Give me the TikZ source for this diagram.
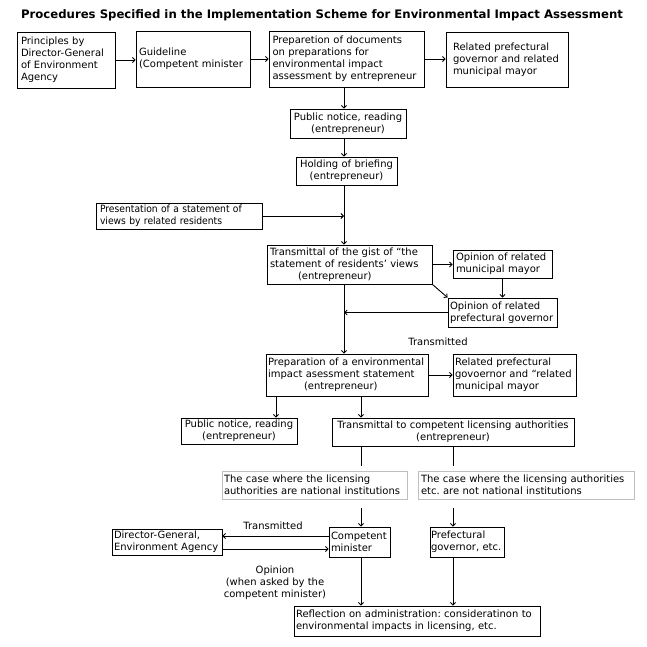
\documentclass[tikz,border=0pt]{standalone}
\usepackage{fontspec}
\setmainfont{DejaVu Sans}
\newfontfamily\condfont{DejaVu Sans}[FakeStretch=0.92]
\usetikzlibrary{arrows.meta,calc}
\frenchspacing
\begin{document}
\begin{tikzpicture}[x=1pt,y=-1pt,
  font=\fontsize{10}{12}\selectfont,
  bx/.style={draw, line width=0.9pt, inner xsep=4pt, inner ysep=2pt, align=left},
  gbx/.style={draw=black!25, line width=0.9pt, inner xsep=3pt, inner ysep=2pt, align=left},
  arr/.style={line width=0.9pt, -{Straight Barb[length=2.5pt,width=5pt]}},
  ln/.style={line width=0.9pt}]
\useasboundingbox (0,0) rectangle (647,647);
\fill[white] (0,0) rectangle (647,647);
\node[font=\bfseries\fontsize{11.7}{14}\selectfont] (title) at (322,15) {Procedures Specified in the Implementation Scheme for Environmental Impact Assessment};
\coordinate (sp) at (344,0);
\coordinate (c0) at (276,0);
\coordinate (c1) at (361,0);
\coordinate (c2) at (453,0);
% boxes
\node[bx, text width=90pt, minimum height=56pt] (p1) at (66,60) {Principles by\\Director-General\\of Environment\\Agency};
\node[bx, inner xsep=3pt, text width=108pt, minimum height=56pt] (g) at (193,59) {Guideline\\(Competent minister};
\node[bx, inner xsep=3.5pt, text width=148pt, minimum height=56pt] (prep) at (346.5,59) {Preparetion of documents\\on preparations for\\environmental impact\\assessment by entrepreneur};
\node[bx, inner xsep=7pt, text width=108pt, minimum height=55pt] (rel1) at (507,59.5) {Related prefectural\\governor and related\\municipal mayor};
\node[bx, align=center, inner xsep=2pt, text width=112pt, minimum height=29pt] (pn1) at (348,123.5) {Public notice, reading\\(entrepreneur)};
\node[bx, align=center, inner xsep=2pt, text width=97pt, minimum height=28pt] (hb) at (346.5,171) {Holding of briefing\\(entrepreneur)};
\node[bx, font=\condfont\fontsize{10}{12}\selectfont, text width=158pt, minimum height=26pt] (pres) at (179,216) {Presentation of a statement of\\views by related residents};
\node[bx, inner xsep=3pt, text width=159pt, minimum height=39pt] (trans) at (349.5,264.5) {Transmittal of the gist of “the\\statement of residents' views\\\hspace*{28pt}(entrepreneur)};
\node[bx, inner xsep=3pt, text width=93pt, minimum height=28pt] (mayor) at (502.5,264) {Opinion of related\\municipal mayor};
\node[bx, inner xsep=2pt, text width=105pt, minimum height=29pt] (gov) at (502.5,312.5) {Opinion of related\\prefectural governor};
\node[bx, inner xsep=2pt, text width=158pt, minimum height=42pt] (eis) at (347,375) {Preparation of a environmental\\impact asessment statement\\\hspace*{36pt}(entrepreneur)};
\node[bx, inner xsep=2pt, text width=119pt, minimum height=42pt] (rel2) at (514.5,375) {Related prefectural\\govoernor and “related\\municipal mayor};
\node[bx, align=center, inner xsep=2pt, text width=112pt, minimum height=26pt] (pn2) at (239,431) {Public notice, reading\\(entrepreneur)};
\node[bx, align=center, inner xsep=2pt, text width=238pt, minimum height=28pt] (tla) at (453,432) {Transmittal to competent licensing authorities\\(entrepreneur)};
\node[gbx, inner xsep=2pt, text width=181pt, minimum height=28pt] (case1) at (314.5,485) {The case where the licensing\\authorities are national institutions};
\node[gbx, text width=210pt, minimum height=28pt] (case2) at (526,485) {The case where the licensing authorities\\etc. are not national institutions};
\node[bx, inner xsep=2pt, text width=106pt, minimum height=26pt] (dg) at (167,542) {Director-General,\\Environment Agency};
\node[bx, inner xsep=2pt, text width=57pt, minimum height=30pt] (cm) at (359.5,542) {Competent\\minister};
\node[bx, inner xsep=1pt, text width=72pt, minimum height=30pt] (pg) at (467,542) {Prefectural\\governor, etc.};
\node[bx, inner xsep=2pt, text width=242pt, minimum height=30pt] (fin) at (417,621) {Reflection on administration: consideratinon to\\environmental impacts in licensing, etc.};
% labels
\node (lt1) at (438,342) {Transmitted};
\node (lt2) at (273,526) {Transmitted};
\node[align=center] (lop) at (275,583) {Opinion\\(when asked by the\\competent minister)};
% connectors
\draw[arr] (p1.east) -- (p1.east -| g.west);
\draw[arr] (g.east) -- (g.east -| prep.west);
\draw[arr] (prep.east) -- (prep.east -| rel1.west);
\draw[arr] (prep.south -| sp) -- (pn1.north -| sp);
\draw[arr] (pn1.south -| sp) -- (hb.north -| sp);
\draw[arr] (hb.south -| sp) -- (trans.north -| sp);
\draw[arr] (pres.east) -- (pres.east -| sp);
\draw[arr] (trans.east) -- (trans.east -| mayor.west);
\draw[arr] (trans.south east) -- (gov.north west);
\draw[arr] (mayor.south) -- (mayor.south |- gov.north);
\draw[arr] (gov.west) -- (gov.west -| sp);
\draw[arr] (trans.south -| sp) -- (eis.north -| sp);
\draw[arr] (eis.east) -- (eis.east -| rel2.west);
\draw[arr] (eis.south -| c0) -- (pn2.north -| c0);
\draw[arr] (eis.south -| c1) -- (tla.north -| c1);
\draw[ln] (tla.south -| c1) -- ($(case1.north -| c1)+(0,-5)$);
\draw[ln] (tla.south -| c2) -- ($(case2.north -| c2)+(0,-5)$);
\draw[arr] ($(case1.south -| c1)+(0,9)$) -- (cm.north -| c1);
\draw[arr] ($(case2.south -| c2)+(0,9)$) -- (pg.north -| c2);
\draw[arr] ($(cm.west)+(0,-6)$) -- ($(dg.east)+(0,-6)$);
\draw[arr] ($(dg.east)+(0,7)$) -- ($(cm.west)+(0,7)$);
\draw[arr] (cm.south -| c1) -- (fin.north -| c1);
\draw[arr] (pg.south -| c2) -- (fin.north -| c2);
\end{tikzpicture}
\end{document}
